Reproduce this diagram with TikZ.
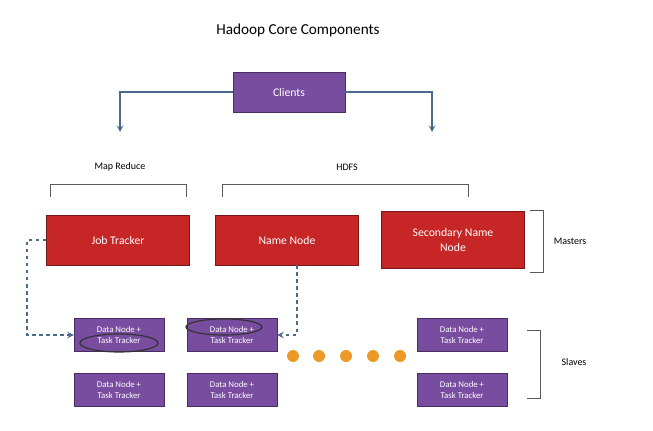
\documentclass[tikz,border=0pt]{standalone}
\usepackage{fontspec}
\setmainfont{Carlito}
\usetikzlibrary{positioning}
\newlength{\du}
\setlength{\du}{0.03cm}
\definecolor{boxpurple}{rgb}{0.47,0.30,0.62}
\definecolor{boxred}{rgb}{0.78,0.15,0.15}
\definecolor{linkblue}{rgb}{0.29,0.42,0.55}
\definecolor{dotorange}{rgb}{0.93,0.60,0.15}
\tikzset{
  master/.style={draw=boxred!60!black,fill=boxred,text=white,minimum width=143\du,minimum height=50\du,align=center,font=\fontsize{10}{12}\selectfont},
  slave/.style={draw=boxpurple!60!black,fill=boxpurple,text=white,minimum width=90\du,minimum height=33\du,align=center,font=\fontsize{7.5}{9}\selectfont},
  link/.style={linkblue,line width=1.4pt,->,>=stealth},
  brace/.style={gray!70!black,line width=0.8pt}
}
\begin{document}
\begin{tikzpicture}[x=\du,y=-\du]
\useasboundingbox (0,0) rectangle (653,431);
\node[font=\fontsize{13}{15}\selectfont] (title) at (298,30) {Hadoop Core Components};
\node[draw=boxpurple!60!black,fill=boxpurple,text=white,minimum width=112\du,minimum height=40\du,font=\fontsize{10}{12}\selectfont] (clients) at (289,92) {Clients};
\coordinate (mr) at (120,132);
\coordinate (hd) at (432,132);
\draw[link] (clients.west) -| (mr);
\draw[link] (clients.east) -| (hd);
\node[font=\fontsize{8.5}{10}\selectfont] (mrlabel) at (120,167) {Map Reduce};
\node[font=\fontsize{8.5}{10}\selectfont] (hdfslabel) at (347,167) {HDFS};
\draw[brace] (50,197) -- (50,184) -- (186,184) -- (186,197);
\draw[brace] (222,197) -- (222,184) -- (468,184) -- (468,197);
% masters
\node[master] (jt) at (118,240) {Job Tracker};
\node[master] (nn) at (287,240) {Name Node};
\node[master,minimum height=57\du] (snn) at (453,240) {Secondary Name\\Node};
\draw[brace] (530,210) -- (543,210) -- (543,272) -- (530,272);
\node[font=\fontsize{8.5}{10}\selectfont] (masters) at (570,241) {Masters};
% slaves
\node[slave] (s1) at (119,335) {Data Node +\\Task Tracker};
\node[slave] (s2) at (232,335) {Data Node +\\Task Tracker};
\node[slave] (s3) at (119,390) {Data Node +\\Task Tracker};
\node[slave] (s4) at (232,390) {Data Node +\\Task Tracker};
\node[slave] (s5) at (462,335) {Data Node +\\Task Tracker};
\node[slave] (s6) at (462,390) {Data Node +\\Task Tracker};
\foreach \x in {293,319,346,373,400}
  \fill[dotorange] (\x,356) circle [radius=6];
\draw[brace] (527,330) -- (540,330) -- (540,398) -- (527,398);
\node[font=\fontsize{8.5}{10}\selectfont] (slaves) at (574,362) {Slaves};
% dashed links
\coordinate (jtbend) at (27,240);
\coordinate (nnbend) at (297,335);
\draw[link,dashed] (jt.west) -- (jtbend) |- (s1.west);
\draw[link,dashed] (nn.south -| nnbend) -- (nnbend) -- (s2.east);
\draw[black!80,line width=1pt] (119,343) ellipse [x radius=39,y radius=9];
\draw[black!80,line width=1pt] (224,327) ellipse [x radius=38,y radius=8];
\end{tikzpicture}
\end{document}
